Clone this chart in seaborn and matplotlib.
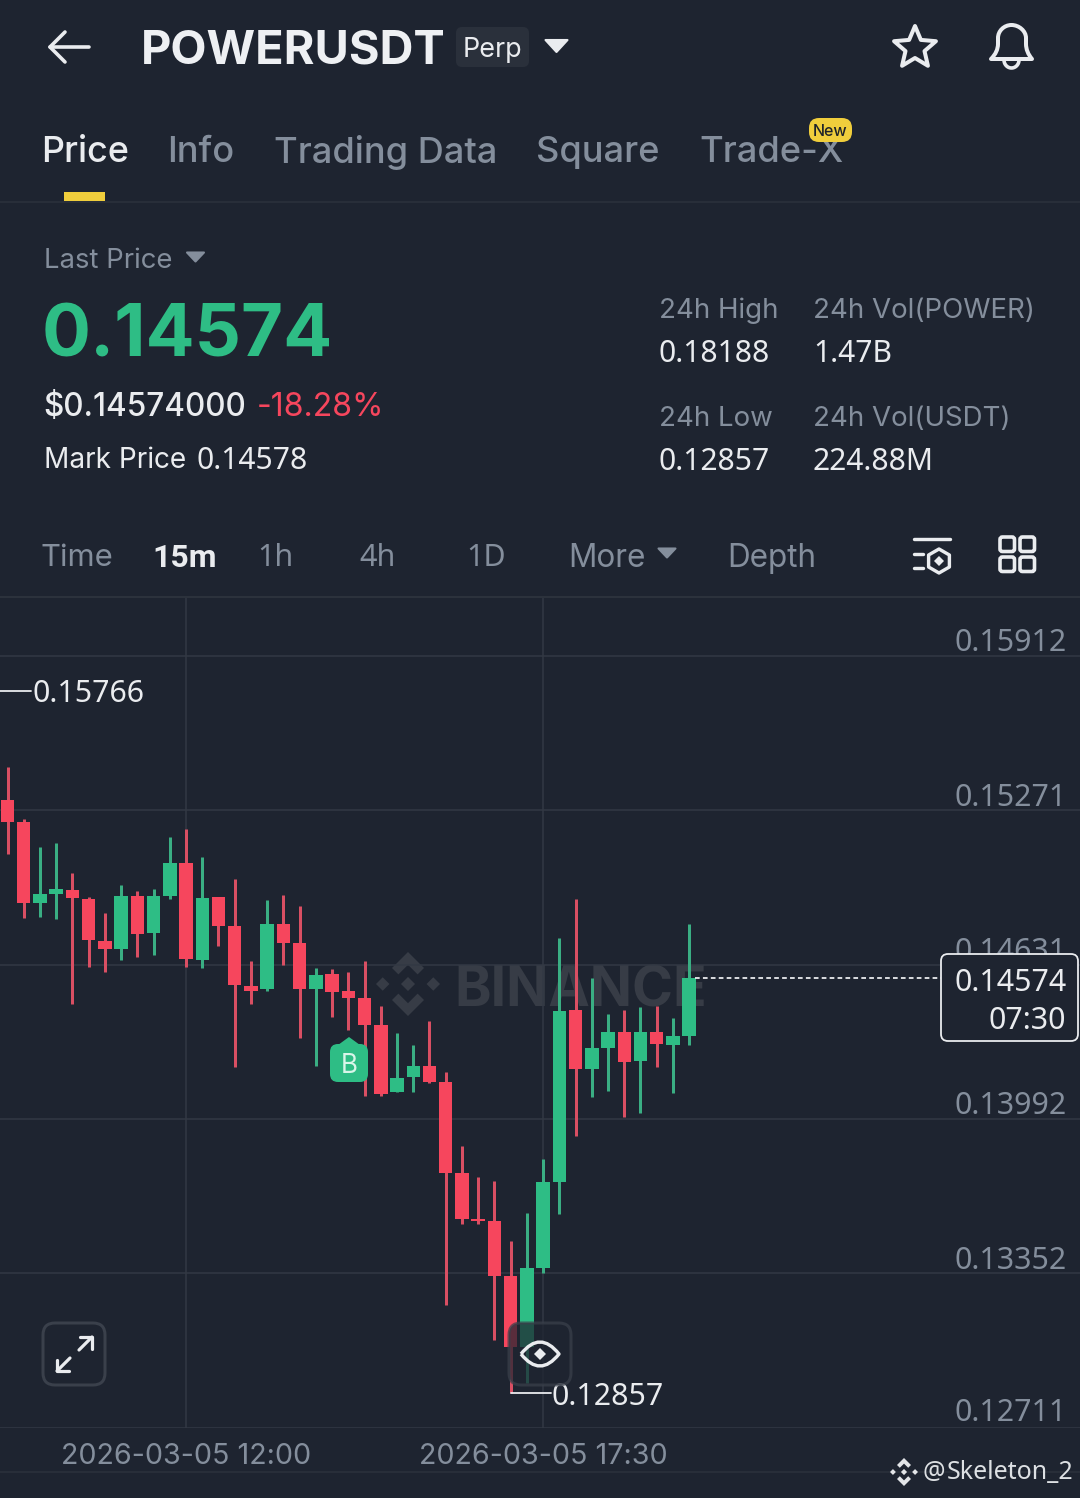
import numpy as np
import pandas as pd
import seaborn as sns
import matplotlib
matplotlib.use("Agg")
import matplotlib.pyplot as plt
from matplotlib.patches import FancyBboxPatch, Polygon, PathPatch, Rectangle
from matplotlib.path import Path

# ---- data (prices) ----
highs = [.15450,.15234,.15117,.15133,.15009,.14912,.14847,.14959,.14938,.14945,.15160,.15194,.15075,.14910,.14986,
         .14647,.14898,.14919,.14873,.14619,.14611,.14600,.14648,.14459,.14349,.14299,.14398,.14187,.13879,.13750,
         .13734,.13485,.13601,.13824,.14740,.14901,.14574,.14426,.14445,.14456,.14458,.14409,.14799]
lows = [.15089,.14825,.14829,.14822,.14467,.14621,.14600,.14650,.14661,.14673,.14901,.14622,.14618,.14708,.14205,
        .14469,.14520,.14629,.14325,.14212,.14414,.14360,.14088,.14088,.14102,.14103,.14141,.13221,.13555,.13556,
        .13076,.12857,.12898,.13355,.13598,.13921,.14083,.14107,.14001,.14016,.14205,.14100,.14298]
tops = [.15315,.15223,.14923,.14943,.14941,.14905,.14731,.14915,.14915,.14914,.15054,.15054,.14908,.14910,.14792,
        .14542,.14798,.14798,.14719,.14588,.14592,.14521,.14494,.14382,.14160,.14209,.14209,.14146,.13766,.13576,
        .13567,.13340,.13375,.13730,.14438,.14441,.14285,.14353,.14353,.14353,.14353,.14336,.14574]
bottoms = [.15223,.14887,.14887,.14924,.14907,.14733,.14694,.14694,.14759,.14762,.14914,.14653,.14650,.14792,.14545,
           .14523,.14530,.14719,.14531,.14530,.14517,.14494,.14382,.14096,.14102,.14164,.14146,.13766,.13576,.13567,
           .13340,.13046,.13046,.13374,.13730,.14198,.14198,.14285,.14227,.14231,.14303,.14299,.14335]
is_up = [0,0,1,1,0,0,0,1,0,1,1,0,1,0,0,0,1,0,0,1,0,0,0,0,1,1,0,0,0,0,0,0,1,1,1,0,1,1,0,1,0,1,1]
grid_prices = [0.15912, 0.15271, 0.14631, 0.13992, 0.13352, 0.12711]
grid_labels = ["0.15912", "0.15271", "0.14631", "0.13992", "0.13352", "0.12711"]
date_labels = ["2026-03-05 12:00", "2026-03-05 17:30"]
date_bars = [11, 33]
max_price = 0.15766
min_price = 0.12857
last_price = 0.14574
stat_heads = ["24h High", "24h Vol(POWER)", "24h Low", "24h Vol(USDT)"]
stat_values = ["0.18188", "1.47B", "0.12857", "224.88M"]
tabs = ["Info", "Trading Data", "Square", "Trade-X"]
intervals = ["1h", "4h", "1D"]
menus = ["More", "Depth"]

# ---- colours ----
BG = "#1E2430"; LINE = "#2C323C"; GRID = "#333944"
GREY = "#848E9C"; WHITE = "#EAECEF"; UP = "#2EBD85"; DOWN = "#F6465D"
UPW = "#3AAE83"; DOWNW = "#D94F63"; YEL = "#F0CE3C"; WM = "#373C46"
NUM = "Noto Sans"

sns.set_theme(style="dark")
plt.rcParams["font.family"] = ["Inter", "DejaVu Sans"]
W, H = 1080, 1498
fig = plt.figure(figsize=(W / 100, H / 100), dpi=100, facecolor=BG)
PX = 0.72


def layer(z):
    a = fig.add_axes([0, 0, 1, 1], zorder=z)
    a.set_xlim(0, W); a.set_ylim(H, 0); a.axis("off")
    return a


back = layer(0)
ui = layer(3)


def T(x, y, s, size, color=WHITE, weight="normal", ha="left", ax=None, family=None, z=6):
    kw = {"family": family} if family else {}
    return (ax or ui).text(x, y + 0.1 * size, s, fontsize=size * PX, color=color, fontweight=weight,
                           ha=ha, va="center", zorder=z, **kw)


def L(xs, ys, color=WHITE, lw=3, ax=None, z=5, **kw):
    kw.setdefault("solid_capstyle", "round")
    (ax or ui).plot(xs, ys, color=color, lw=lw * PX, zorder=z, **kw)


def RR(x0, y0, x1, y1, r, fc="none", ec="none", lw=0, ax=None, z=4, alpha=None):
    (ax or ui).add_patch(FancyBboxPatch((x0 + r, y0 + r), x1 - x0 - 2 * r, y1 - y0 - 2 * r,
                                        boxstyle=f"round,pad={r}", fc=fc, ec=ec, lw=lw * PX,
                                        zorder=z, alpha=alpha))


def TRI(cx, cy, w, h, color):
    ui.add_patch(Polygon([(cx - w / 2, cy - h / 2), (cx + w / 2, cy - h / 2), (cx, cy + h / 2)],
                         fc=color, ec=color, lw=1.5, joinstyle="round", zorder=5))


def logo(ax, cx, cy, s, color, z=1):
    chev = [(0, 1), (.5, .5), (.3, .3), (0, .6), (-.3, .3), (-.5, .5)]
    for sign in (1, -1):
        ax.add_patch(Polygon([(cx + x * s, cy - sign * y * s) for x, y in chev], fc=color, ec="none", zorder=z))
    for dx, r in ((0, .22), (-.79, .21), (.79, .21)):
        ax.add_patch(Polygon([(cx + (dx + r) * s, cy), (cx + dx * s, cy - r * s),
                              (cx + (dx - r) * s, cy), (cx + dx * s, cy + r * s)],
                             fc=color, ec="none", zorder=z))


# ---- chart ----
TOP_PX, BOT_PX = 598, 1428
px_per_price = (1428 - 655.5) / (grid_prices[0] - grid_prices[-1])
BAR0, BARW = 7.5, 16.23
ax = fig.add_axes([0, 1 - BOT_PX / H, 1, (BOT_PX - TOP_PX) / H], zorder=1)
ax.patch.set_alpha(0)

df = pd.DataFrame({"i": range(len(is_up)), "high": highs, "low": lows, "top": tops,
                   "bottom": bottoms, "up": is_up})
df["body"] = df["top"] - df["bottom"]

for g in grid_prices:
    ax.axhline(g, color=GRID, lw=1.5 * PX, zorder=0)
for b in date_bars:
    ax.axvline(b, color=GRID, lw=1.5 * PX, zorder=0)

wick_colors = [UPW if u else DOWNW for u in is_up]
ax.vlines(df["i"], df["low"], df["high"], colors=wick_colors, lw=3 * PX, zorder=2)
for flag, col in ((1, UP), (0, DOWN)):
    sub = df[df["up"] == flag]
    sns.barplot(data=sub, x="i", y="body", bottom=sub["bottom"].to_numpy(), native_scale=True,
                color=col, saturation=1, width=0.83, errorbar=None, linewidth=0, zorder=3, ax=ax)

ax.set_xlim(-BAR0 / BARW, (W - BAR0) / BARW)
ax.set_ylim(grid_prices[-1], grid_prices[-1] + (BOT_PX - TOP_PX) / px_per_price)
ax.set_xlabel(""); ax.set_ylabel(""); ax.set_xticks([]); ax.set_yticks([])
for sp in ax.spines.values():
    sp.set_visible(False)

for g, lab in zip(grid_prices, grid_labels):
    off = 15 if g == grid_prices[-1] else 12.5
    ax.annotate(lab, xy=(1066.5 / W, g), xycoords=("axes fraction", "data"), xytext=(0, off * PX),
                textcoords="offset points", ha="right", va="center", color=GREY, fontsize=30.3 * PX,
                family=NUM, zorder=1)

# extreme labels
ax.annotate("0.15766", xy=(32 / W, max_price), xycoords=("axes fraction", "data"), xytext=(1 * PX, -3 * PX),
            textcoords="offset points", ha="left", va="center", color=WHITE, fontsize=30.3 * PX, family=NUM, zorder=5)
ax.plot([-BAR0 / BARW, (31 - BAR0) / BARW], [max_price, max_price], color=WHITE, lw=1.8 * PX, zorder=5)
ax.annotate("0.12857", xy=(551.5 / W, min_price), xycoords=("axes fraction", "data"), xytext=(0, -4.5 * PX),
            textcoords="offset points", ha="left", va="center", color=WHITE, fontsize=30.3 * PX, family=NUM, zorder=5)
ax.plot([31, (551 - BAR0) / BARW], [min_price, min_price], color=WHITE, lw=1.8 * PX, zorder=5)
# last price dashed
ax.plot([(695 - BAR0) / BARW, (941 - BAR0) / BARW], [last_price, last_price], color=WHITE, lw=1.8 * PX,
        dashes=(2.6, 1.8), zorder=5)

# watermark
logo(back, 408, 984, 32, WM)
T(454, 985.5, "BINANCE", 55.5, WM, "bold", ax=back, z=1)

# date labels
for b, lab in zip(date_bars, date_labels):
    T(BAR0 + b * BARW, 1454, lab, 28.7, GREY, ha="center")
L([0, W], [1472, 1472], LINE, 1.5, solid_capstyle="butt", z=1)
L([0, W], [597, 597], LINE, 2, solid_capstyle="butt", z=1)
L([0, W], [202, 202], LINE, 1.5, solid_capstyle="butt", z=1)

# ---- header ----
L([50, 89], [47, 47], WHITE, 3.6)
L([65, 50, 65], [32, 47, 62], WHITE, 3.6, solid_joinstyle="round")
T(141, 47, "POWERUSDT", 46.9, "#EEF0F3", "bold")
RR(456, 27, 529, 67, 6, fc="#2A303B")
T(492.5, 47, "Perp", 27, WHITE, ha="center")
TRI(556.5, 46, 22, 12, WHITE)

ang = np.pi / 2 + np.arange(10) * np.pi / 5
rad = np.where(np.arange(10) % 2 == 0, 22, 10)
ui.add_patch(Polygon(np.c_[915 + rad * np.cos(ang), 48 - rad * np.sin(ang)], fc="none", ec=WHITE,
                     lw=4 * PX, joinstyle="round", zorder=5))
bell = Path([(991, 59), (998, 52), (998, 44), (998, 38), (998, 31), (1004, 25), (1011.5, 25), (1019, 25),
             (1026, 31), (1026, 38), (1026, 44), (1026, 52), (1032, 59), (991, 59)],
            [Path.MOVETO, Path.CURVE3, Path.CURVE3, Path.LINETO, Path.CURVE4, Path.CURVE4, Path.CURVE4,
             Path.CURVE4, Path.CURVE4, Path.CURVE4, Path.LINETO, Path.CURVE3, Path.CURVE3, Path.CLOSEPOLY])
ui.add_patch(PathPatch(bell, fc="none", ec=WHITE, lw=4 * PX, joinstyle="round", zorder=5))
t = np.linspace(0, np.pi, 20)
L(1011.5 + 7.5 * np.cos(t), 60 + 8 * np.sin(t), WHITE, 3.6)

# ---- tabs ----
T(41.5, 149, "Price", 36, WHITE, "medium")
for x, s in zip((167, 274.5, 536.5, 699.5), tabs):
    T(x, 149, s, 36.2, GREY, "medium")
ui.add_patch(Rectangle((64, 192), 41, 9, fc=YEL, ec="none", zorder=5))
RR(809, 118, 852, 142, 10, fc=YEL, z=6)
T(830.5, 130, "New", 16, "#1E2329", "medium", ha="center", z=7)

# ---- price block ----
T(43.5, 258, "Last Price", 27.5, GREY)
TRI(195.5, 257, 17, 9, GREY)
T(42, 330, "0.14574", 72.5, UP, "bold")
T(43, 404, "$0.14574000", 31.5, WHITE, "medium")
T(257, 404, "-18.28%", 32, DOWN)
T(44, 458, "Mark Price", 28, WHITE)
T(197, 458, "0.14578", 30, WHITE, family=NUM)
for (x, y), s in zip(((659, 308), (813, 308), (659, 416), (813, 416)), stat_heads):
    T(x, y, s, 27.7, GREY)
for (x, y), s in zip(((659, 351), (813, 351), (659, 459), (813, 459)), stat_values):
    T(x, y, s, 30, WHITE, family=NUM)

# ---- interval bar ----
T(40.5, 555, "Time", 31, GREY)
T(152, 555, "15m", 32, WHITE, "bold", family="Roboto")
for x, s in zip((257, 359, 466), intervals):
    T(x, 555, s, 30.5, GREY, family=NUM)
for x, s in zip((568.5, 727.5), menus):
    T(x, 555, s, 31.5, GREY)
TRI(667, 553, 17, 9, GREY)
L([914, 950], [539, 539], WHITE, 3.4)
L([914, 923], [554, 554], WHITE, 3.4)
L([914, 923], [568, 568], WHITE, 3.4)
ha = np.pi / 2 + np.arange(6) * np.pi / 3
ui.add_patch(Polygon(np.c_[939 + 12 * np.cos(ha), 561 + 12 * np.sin(ha)], fc="none", ec=WHITE, lw=3.4 * PX,
                     joinstyle="round", zorder=5))
ui.add_patch(Polygon([(944, 561), (939, 556), (934, 561), (939, 566)], fc=WHITE, ec="none", zorder=5))
for x0 in (1000, 1020):
    for y0 in (537, 557):
        RR(x0, y0, x0 + 14.5, y0 + 14.5, 2.5, ec=WHITE, lw=3.6)

# ---- chart overlays ----
RR(941, 954, 1078, 1041, 7, fc=BG, ec=WHITE, lw=1.8, z=6)
T(1066.5, 980, "0.14574", 30.3, WHITE, ha="right", family=NUM, z=7)
T(1066.5, 1018, "07:30", 30.3, WHITE, ha="right", family=NUM, z=7)

RR(330, 1044, 368, 1082, 8, fc=UP, z=6)
ui.add_patch(Polygon([(338, 1045), (349, 1037), (360, 1045)], fc=UP, ec="none", zorder=6))
T(349.5, 1063, "B", 26, "#D8F5E9", ha="center", z=7)

RR(43, 1323, 105, 1385, 12, fc=BG, ec="#3A404B", lw=3, z=6)
L([57, 70], [1371, 1358], WHITE, 3.2, z=7)
L([57, 57, 69], [1360, 1371, 1371], WHITE, 3.2, z=7)
L([79, 92], [1350, 1337], WHITE, 3.2, z=7)
L([80, 92, 92], [1337, 1337, 1349], WHITE, 3.2, z=7)

RR(509, 1323, 571, 1385, 12, fc=BG, ec="#3A404B", lw=3, z=6, alpha=0.72)
eye = Path([(521, 1354), (540, 1330), (559, 1354), (540, 1378), (521, 1354)],
           [Path.MOVETO, Path.CURVE3, Path.CURVE3, Path.CURVE3, Path.CURVE3])
ui.add_patch(PathPatch(eye, fc="none", ec=WHITE, lw=3.4 * PX, zorder=7, joinstyle="round"))
ui.add_patch(Polygon([(546, 1354), (540, 1348), (534, 1354), (540, 1360)], fc=WHITE, ec="none", zorder=7))

# ---- watermark user ----
logo(ui, 904, 1472, 14, "#E3E5E8", z=7)
T(923, 1470, "@", 25, "#DDE0E3", family="Noto Sans")
T(947, 1470, "Skeleton_2", 25, "#DDE0E3", family="Noto Sans")

fig.savefig("out.png", dpi=100, facecolor=BG)
